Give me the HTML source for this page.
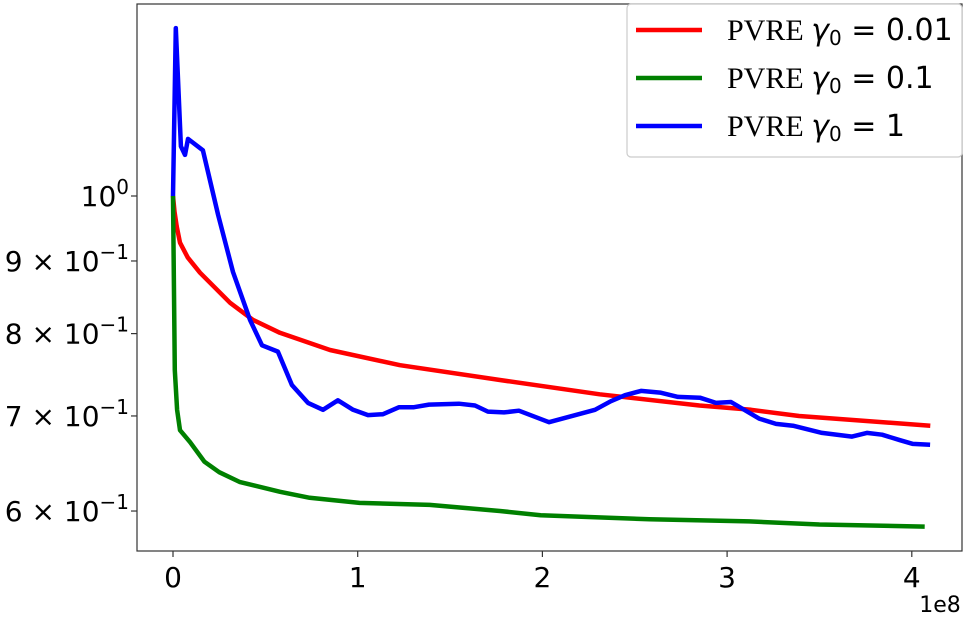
<!DOCTYPE html>
<html><head><meta charset="utf-8"><style>
html,body{margin:0;padding:0;background:#fff;}
svg{display:block;}
</style></head><body>
<svg id="chart" width="967" height="618" viewBox="0 0 967 618" xmlns="http://www.w3.org/2000/svg"></svg>
<script>
const xTicks = [0, 1, 2, 3, 4];
const yTicks = [1.0, 0.9, 0.8, 0.7, 0.6];
const yTickMant = ["", "9", "8", "7", "6"];
const redX = [0, 0.008, 0.02, 0.038, 0.08, 0.146, 0.309, 0.433, 0.579, 0.85, 1.229, 1.77, 2.31, 2.85, 3.13, 3.39, 4.10];
const redY = [1.0, 0.975, 0.952, 0.927, 0.905, 0.883, 0.841, 0.818, 0.801, 0.779, 0.760, 0.742, 0.725, 0.712, 0.707, 0.700, 0.689];
const greenX = [0, 0.01, 0.022, 0.038, 0.092, 0.17, 0.25, 0.36, 0.58, 0.74, 1.01, 1.39, 1.77, 1.99, 2.58, 3.12, 3.50, 4.07];
const greenY = [1.0, 0.754, 0.707, 0.684, 0.671, 0.650, 0.639, 0.629, 0.619, 0.613, 0.608, 0.606, 0.600, 0.596, 0.592, 0.590, 0.587, 0.585];
const blueX = [0, 0.015, 0.043, 0.065, 0.081, 0.162, 0.244, 0.325, 0.417, 0.482, 0.568, 0.644, 0.731, 0.812, 0.893, 0.975, 1.056, 1.137, 1.224, 1.305, 1.386, 1.548, 1.635, 1.705, 1.792, 1.873, 2.036, 2.144, 2.285, 2.371, 2.447, 2.534, 2.637, 2.734, 2.853, 2.94, 3.021, 3.173, 3.265, 3.357, 3.514, 3.676, 3.757, 3.839, 3.936, 4.006, 4.099];
const blueY = [1.0, 1.313, 1.084, 1.069, 1.097, 1.077, 0.970, 0.884, 0.818, 0.785, 0.777, 0.736, 0.715, 0.707, 0.718, 0.707, 0.701, 0.702, 0.710, 0.710, 0.713, 0.714, 0.712, 0.705, 0.704, 0.706, 0.693, 0.699, 0.707, 0.717, 0.724, 0.729, 0.727, 0.722, 0.721, 0.715, 0.716, 0.697, 0.691, 0.689, 0.681, 0.677, 0.681, 0.679, 0.673, 0.669, 0.668];
const legendLabels = ["0.01", "0.1", "1"];
const colors = ["#ff0000", "#008000", "#0000ff"];

const NS = "http://www.w3.org/2000/svg";
const svg = document.getElementById("chart");
const L = 137, R = 962, T = 4, B = 551;
function xs(v){ return 173 + v * 184.7; }
function ys(v){ return 196 - Math.log10(v) * 1420; }
function mk(tag, attrs, parent){
  const e = document.createElementNS(NS, tag);
  for (const k in attrs) e.setAttribute(k, attrs[k]);
  (parent || svg).appendChild(e);
  return e;
}
const frame = mk("rect", {x:L, y:T, width:R-L, height:B-T, fill:"none", stroke:"#333", "stroke-width":1.2});


xTicks.forEach(t => {
  const g = mk("g", {});
  
  
  mk("line", {x1:xs(t), x2:xs(t), y1:B, y2:B+6, stroke:"#333", "stroke-width":1.2}, g);
  const tx = mk("text", {x:xs(t), y:587, "text-anchor":"middle", "font-family":"DejaVu Sans, sans-serif", "font-size":28, fill:"#000"}, g);
  tx.textContent = t;
});
const off = mk("text", {x:940, y:612, "text-anchor":"middle", "font-family":"DejaVu Sans, sans-serif", "font-size":22, fill:"#000"});
off.textContent = "1e8";


yTicks.forEach((t, i) => {
  const g = mk("g", {});
  
  
  const y = ys(t);
  mk("line", {x1:L-6, x2:L, y1:y, y2:y, stroke:"#333", "stroke-width":1.2}, g);
  const tx = mk("text", {x:129, y:y+10, "text-anchor":"end", "font-family":"DejaVu Sans, sans-serif", "font-size":28, fill:"#000"}, g);
  if (yTickMant[i] === "") {
    tx.innerHTML = '10<tspan dy="-12" font-size="20">0</tspan>';
  } else {
    tx.innerHTML = yTickMant[i] + ' × 10<tspan dy="-12" font-size="20">−1</tspan>';
  }
});
function series(xa, ya, col, name){
  const p = xa.map((x, i) => xs(x).toFixed(1) + "," + ys(ya[i]).toFixed(1)).join(" ");
  const pl = mk("polyline", {points:p, fill:"none", stroke:col, "stroke-width":4.5, "stroke-linejoin":"round", "stroke-linecap":"butt"});
  
  
}
series(redX, redY, colors[0], "series-red-gamma-0.01");
series(greenX, greenY, colors[1], "series-green-gamma-0.1");
series(blueX, blueY, colors[2], "series-blue-gamma-1");
const lg = mk("g", {});


mk("rect", {x:627, y:4, width:335, height:153, rx:4, fill:"#fff", "fill-opacity":0.85, stroke:"#ccc", "stroke-width":1.2}, lg);
legendLabels.forEach((lab, i) => {
  const g = mk("g", {}, lg);
  
  
  const y = 30 + i * 48;
  mk("line", {x1:636, x2:702, y1:y, y2:y, stroke:colors[i], "stroke-width":4.5}, g);
  const t = mk("text", {x:727, y:y+10, "font-family":"Liberation Serif, serif", "font-size":30, fill:"#000"}, g);
  t.innerHTML = 'PVRE <tspan font-family="DejaVu Sans, sans-serif" font-style="italic">γ</tspan><tspan font-family="DejaVu Sans, sans-serif" font-size="20" dy="5">0</tspan><tspan font-family="DejaVu Sans, sans-serif" dy="-5"> = ' + lab + '</tspan>';
});
</script>
</body></html>
